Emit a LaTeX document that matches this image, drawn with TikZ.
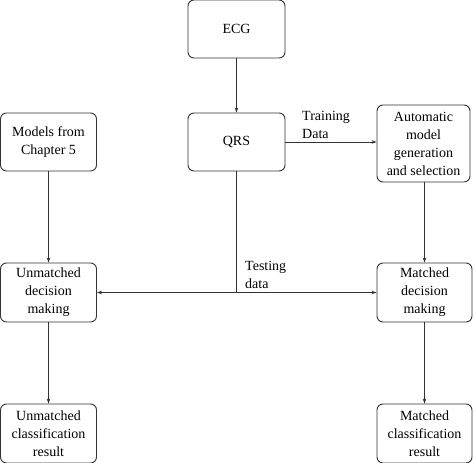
\documentclass[tikz,border=0pt]{standalone}
\usepackage{fontspec}
\setmainfont{Liberation Serif}
\usetikzlibrary{arrows.meta}
\definecolor{linec}{HTML}{333333}
\tikzset{
  box/.style={draw=linec, line width=0.9pt, rounded corners=6pt, align=center,
    inner sep=0pt, font=\fontsize{14}{18}\selectfont},
  conn/.style={draw=linec, line width=0.8pt, -{Stealth[length=5pt,width=3.5pt]}},
  lbl/.style={align=left, inner sep=0pt, font=\fontsize{14}{18}\selectfont, anchor=south west}
}
\begin{document}
\begin{tikzpicture}[x=1pt,y=-1pt]
\useasboundingbox (0,0) rectangle (474,463);
\node[box, minimum width=97pt, minimum height=58pt] (ecg) at (236.5,29) {ECG};
\node[box, minimum width=97pt, minimum height=58pt] (qrs) at (236.5,142) {QRS};
\node[box, minimum width=96pt, minimum height=58pt] (models) at (48.5,142) {Models from\\Chapter 5};
\node[box, minimum width=93pt, minimum height=77pt] (auto) at (423.5,143.5) {Automatic\\model\\generation\\and selection};
\node[box, minimum width=96pt, minimum height=59pt] (umd) at (48.5,292.5) {Unmatched\\decision\\making};
\node[box, minimum width=95pt, minimum height=59pt] (md) at (424.5,292.5) {Matched\\decision\\making};
\node[box, minimum width=96pt, minimum height=59pt] (umc) at (48.5,433.5) {Unmatched\\classification\\result};
\node[box, minimum width=95pt, minimum height=59pt] (mc) at (424.5,433.5) {Matched\\classification\\result};
\coordinate (split) at (qrs.south |- umd.east);
\draw[conn] (ecg) -- (qrs);
\draw[conn] (qrs) -- (auto.west |- qrs.east);
\draw[conn] (models) -- (umd);
\draw[conn] (auto.south -| md.north) -- (md);
\draw[draw=linec, line width=0.8pt] (qrs.south) -- (split);
\draw[conn] (split) -- (umd.east);
\draw[conn] (split) -- (md.west);
\draw[conn] (umd) -- (umc);
\draw[conn] (md) -- (mc);
\node[lbl] (tr) at (302,139) {Training\\Data};
\node[lbl] (te) at (245,289) {Testing\\data};
\end{tikzpicture}
\end{document}
